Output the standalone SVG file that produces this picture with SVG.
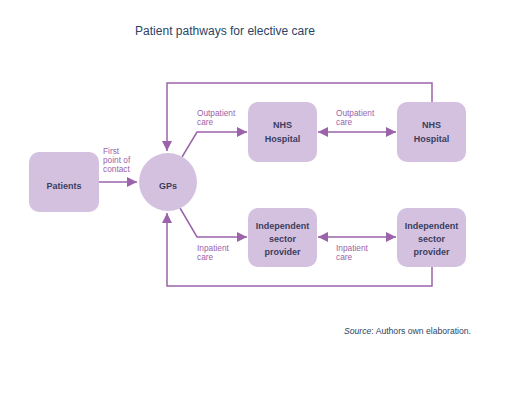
<svg xmlns="http://www.w3.org/2000/svg" width="513" height="410" viewBox="0 0 513 410">
<defs>
<marker id="ah" viewBox="0 0 10 10" refX="10" refY="5" markerWidth="10" markerHeight="10" markerUnits="userSpaceOnUse" orient="auto-start-reverse">
<path d="M0,0 L10,5 L0,10 z" fill="#9a63aa"/>
</marker>
<style>
.box{fill:#d4c1df;}
.nt{font-family:"Liberation Sans",Arial,sans-serif;font-size:9px;font-weight:bold;fill:#3b3d5e;text-anchor:middle;}
.lb{font-family:"Liberation Sans",Arial,sans-serif;font-size:8.3px;fill:#9a63aa;}
.ln{fill:none;stroke:#9a63aa;stroke-width:1.5;}
</style>
</defs>
<rect width="513" height="410" fill="#ffffff"/>
<text x="135" y="35" font-family="'Liberation Sans',Arial,sans-serif" font-size="12.5" fill="#2b4466" textLength="180" lengthAdjust="spacingAndGlyphs">Patient pathways for elective care</text>

<g id="connectors">
<path class="ln" d="M99,182 H137" marker-end="url(#ah)"/>
<path class="ln" d="M182,157 L197,132 H247" marker-end="url(#ah)"/>
<path class="ln" d="M180,208 L197,237 H247" marker-end="url(#ah)"/>
<path class="ln" d="M318,132 H396" marker-start="url(#ah)" marker-end="url(#ah)"/>
<path class="ln" d="M318,237 H396" marker-start="url(#ah)" marker-end="url(#ah)"/>
<path class="ln" d="M432,102 V83 H167 V151" marker-end="url(#ah)"/>
<path class="ln" d="M432,267 V286 H167 V213" marker-end="url(#ah)"/>
</g>

<g id="labels">
<text class="lb" x="103" y="154">First</text>
<text class="lb" x="103" y="163">point of</text>
<text class="lb" x="103" y="172">contact</text>
<text class="lb" x="197" y="116">Outpatient</text>
<text class="lb" x="197" y="125">care</text>
<text class="lb" x="336" y="116">Outpatient</text>
<text class="lb" x="336" y="125">care</text>
<text class="lb" x="197" y="251">Inpatient</text>
<text class="lb" x="197" y="260">care</text>
<text class="lb" x="336" y="251">Inpatient</text>
<text class="lb" x="336" y="260">care</text>
</g>

<g id="patients">
<rect class="box" x="29" y="152" width="70" height="60" rx="10"/>
<text class="nt" x="64" y="189">Patients</text>
</g>
<g id="gps">
<circle class="box" cx="168" cy="182" r="29"/>
<text class="nt" x="168" y="189">GPs</text>
</g>
<g id="nhs1">
<rect class="box" x="248" y="102" width="69" height="60" rx="10"/>
<text class="nt" x="282.5" y="128">NHS</text>
<text class="nt" x="282.5" y="142">Hospital</text>
</g>
<g id="nhs2">
<rect class="box" x="397" y="102" width="69" height="60" rx="10"/>
<text class="nt" x="431.5" y="128">NHS</text>
<text class="nt" x="431.5" y="142">Hospital</text>
</g>
<g id="isp1">
<rect class="box" x="248" y="208" width="69" height="59" rx="10"/>
<text class="nt" x="282.5" y="229">Independent</text>
<text class="nt" x="282.5" y="242">sector</text>
<text class="nt" x="282.5" y="255">provider</text>
</g>
<g id="isp2">
<rect class="box" x="397" y="208" width="69" height="59" rx="10"/>
<text class="nt" x="431.5" y="229">Independent</text>
<text class="nt" x="431.5" y="242">sector</text>
<text class="nt" x="431.5" y="255">provider</text>
</g>

<text x="344" y="334" font-family="'Liberation Sans',Arial,sans-serif" font-size="8.5" fill="#2b4466" textLength="127" lengthAdjust="spacingAndGlyphs"><tspan font-style="italic">Source</tspan>: Authors own elaboration.</text>
</svg>
